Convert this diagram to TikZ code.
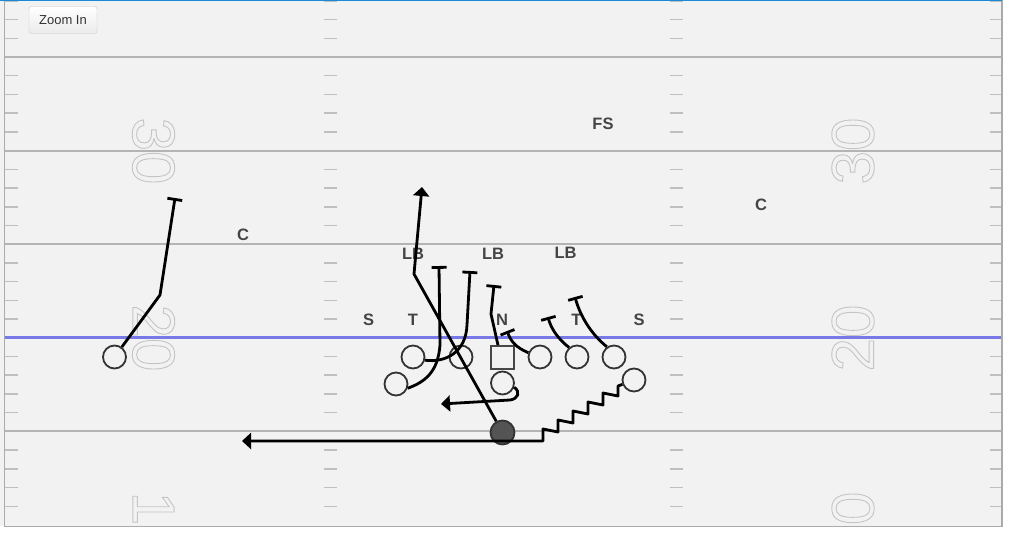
\documentclass[tikz,border=0pt]{standalone}
\usepackage{fontspec}
\setmainfont{Liberation Sans}
\usetikzlibrary{arrows.meta}

\definecolor{fieldbg}{HTML}{F2F2F2}
\definecolor{yardline}{HTML}{B4B4B4}
\definecolor{scrimmage}{HTML}{7878E6}
\definecolor{hashmark}{HTML}{BFBFBF}
\definecolor{bordergray}{HTML}{ABABAB}
\definecolor{numgray}{HTML}{C4C4C4}
\definecolor{labelgray}{HTML}{444444}
\definecolor{topblue}{HTML}{1A8AD6}

\newcommand{\outlinenum}[1]{\special{pdf:literal direct 1 Tr 0.9 w}#1\special{pdf:literal direct 0 Tr}}

\tikzset{
  player/.style={circle,draw=black!80,line width=1.8pt,minimum size=23pt,inner sep=0pt},
  snapper/.style={rectangle,draw=black!72,line width=1.8pt,minimum size=23pt,inner sep=0pt},
  ballcarrier/.style={circle,draw=black!80,fill=black!67,line width=1.8pt,minimum size=24pt,inner sep=0pt},
  defender/.style={text=labelgray,font=\fontsize{16.5}{16.5}\selectfont\bfseries,inner sep=0pt},
  route/.style={black,line width=2.8pt,line join=round},
  block/.style={route,-{Bar[width=15pt]}},
  runroute/.style={route,-{Triangle[length=9pt,width=16pt]}},
  yardnum/.style={text=numgray,font=\fontsize{60}{60}\selectfont,inner sep=0pt},
  zoombutton/.style={draw=black!22,rounded corners=2.5pt,top color=white,bottom color=black!8,
    minimum width=68pt,minimum height=27pt,inner sep=0pt,text=black!80,font=\fontsize{13}{13}\selectfont}
}

\begin{document}
\begin{tikzpicture}[x=1pt,y=-1pt]
\useasboundingbox (0,0) rectangle (1010,533);
\fill [white] (0,0) rectangle (1010,533);
\fill [fieldbg] (0,0) rectangle (1002,526);
\begin{scope}
\clip (5,0) rectangle (1002,526);
\node [yardnum,rotate=-90] (thirtyleft) at (153.5,151) {\outlinenum{30}};
\node [yardnum,rotate=90] (thirtyright) at (853,151) {\outlinenum{30}};
\node [yardnum,rotate=-90] (twentyleft) at (153.5,338) {\outlinenum{20}};
\node [yardnum,rotate=90] (twentyright) at (853,338) {\outlinenum{20}};
\node [yardnum,rotate=-90] (tenleft) at (153.5,525) {\outlinenum{10}};
\node [yardnum,rotate=90] (tenright) at (853,525) {\outlinenum{10}};
\foreach \yl in {-36.6,57,150.6,244.2,337.8,431.4}
  \foreach \m in {1,...,4}
    \foreach \xa in {5,324,670,989.5}
      \draw [hashmark,line width=1.5pt] (\xa,\yl+18.72*\m) -- ++(12.5,0);
\end{scope}
\foreach \yl in {57,150.6,244.2,431.4}
  \draw [yardline,line width=2pt] (5,\yl) -- (1002,\yl);
\draw [scrimmage,line width=3pt] (5,337.8) -- (1002,337.8);
\draw [bordergray,line width=1.5pt] (4.5,0) -- (4.5,526.5) -- (1002,526.5) -- (1002,0);
\draw [topblue,line width=1.2pt] (0,0.6) -- (1002,0.6);

\node [zoombutton] (zoomin) at (63,20) {Zoom In};

\node [defender] (fs) at (603,124) {FS};
\node [defender] (cleft) at (243,235) {C};
\node [defender] (cright) at (761,205) {C};
\node [defender] (lbleft) at (413,254) {LB};
\node [defender] (lbmid) at (493,254) {LB};
\node [defender] (lbright) at (565.5,253) {LB};
\node [defender] (sleft) at (368.5,319.5) {S};
\node [defender] (tleft) at (413,319.5) {T};
\node [defender] (nose) at (502,319.5) {N};
\node [defender] (tright) at (576.5,319.5) {T};
\node [defender] (sright) at (639,319.5) {S};

\node [player] (wr) at (114.5,357) {};
\node [player] (lt) at (413,357) {};
\node [player] (lg) at (461,357) {};
\node [snapper] (c) at (502.5,357.5) {};
\node [player] (rg) at (540,357) {};
\node [player] (rt) at (577,357) {};
\node [player] (te) at (614,357) {};
\node [player] (fb) at (396,384) {};
\node [player] (hb) at (502.5,383) {};
\node [player] (wing) at (634,380) {};
\node [ballcarrier] (qb) at (502.5,432.5) {};

\coordinate (wrend) at (175,198);
\coordinate (qbend) at (422,187);
\coordinate (fbend) at (439,266);
\coordinate (ltend) at (470,271);
\coordinate (cend) at (494,285);
\coordinate (rgend) at (507,331);
\coordinate (rtend) at (548,317);
\coordinate (teend) at (575,297);
\coordinate (hbend) at (441,404);
\coordinate (wingend) at (242,441);

\draw [block] (wr) -- (160,295) -- (wrend);
\draw [runroute] (qb) -- (414,274) -- (qbend);
\draw [block] (fb.-20) .. controls (425,382) and (438,372) .. (440,345) -- (fbend);
\draw [block] (lt.-15) .. controls (446,363) and (466,352) .. (467,325) -- (ltend);
\draw [block] (c.110) -- (491,314) -- (cend);
\draw [block] (rg.160) .. controls (515,347) and (511,341) .. (rgend);
\draw [block] (rt.130) .. controls (557,338) and (551,328) .. (rtend);
\draw [block] (te.125) .. controls (590,333) and (580,315) .. (teend);
\draw [runroute] (hb.-20) .. controls (521,392) and (518,399) .. (510,400) -- (hbend);
\draw [runroute] (wing) -- (618,386) -- (618,396) -- (603,393) -- (603,405) -- (588,402)
  -- (588,414) -- (573,411) -- (573,423) -- (558,420) -- (558,432) -- (543,429)
  -- (543,441) -- (wingend);
\end{tikzpicture}
\end{document}
